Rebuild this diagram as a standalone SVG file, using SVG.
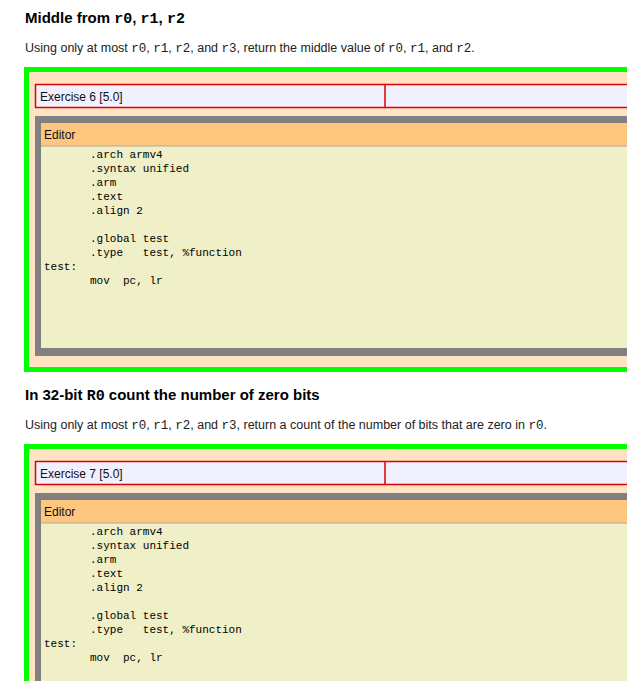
<svg xmlns="http://www.w3.org/2000/svg" width="627" height="681" viewBox="0 0 627 681">
<style>
.h{font:bold 15px "Liberation Sans",Arial,sans-serif;fill:#000}
.p{font:12.5px "Liberation Sans",Arial,sans-serif;fill:#222}
.m{font-family:"Liberation Mono",monospace}
.c{font:11px "Liberation Mono",monospace;fill:#000;white-space:pre}
.l{font:12px "Liberation Sans",Arial,sans-serif;fill:#111}
</style>
<defs>
<g id="ex">
<rect x="26.5" y="69.5" width="700" height="300" fill="#ffe4c4" stroke="#00ff00" stroke-width="5"/>
<rect x="35.5" y="84.5" width="700" height="23" fill="#f0f0ff" stroke="#e00000" stroke-width="1.5"/>
<line x1="385" y1="84" x2="385" y2="108" stroke="#e00000" stroke-width="1.5"/>
<rect x="35" y="116" width="700" height="240" fill="#808080"/>
<rect x="41" y="123" width="700" height="23" fill="#ffc680"/>
<rect x="41" y="146" width="700" height="202" fill="#efefc8"/>
<line x1="41" y1="146" x2="627" y2="146" stroke="#b0a890"/>
<text class="l" x="44" y="139">Editor</text>
<text class="c"><tspan x="90" y="158">.arch armv4</tspan><tspan x="90" y="172">.syntax unified</tspan><tspan x="90" y="186">.arm</tspan><tspan x="90" y="200">.text</tspan><tspan x="90" y="214">.align 2</tspan><tspan x="90" y="242">.global test</tspan><tspan x="90" y="256">.type   test, %function</tspan><tspan x="44" y="270">test:</tspan><tspan x="90" y="284">mov  pc, lr</tspan></text>
</g>
</defs>
<rect width="627" height="681" fill="#fff"/>
<g id="ex6">
<text class="h" x="25" y="23">Middle from <tspan class="m">r0</tspan>, <tspan class="m">r1</tspan>, <tspan class="m">r2</tspan></text>
<text class="p" x="25" y="52">Using only at most <tspan class="m">r0</tspan>, <tspan class="m">r1</tspan>, <tspan class="m">r2</tspan>, and <tspan class="m">r3</tspan>, return the middle value of <tspan class="m">r0</tspan>, <tspan class="m">r1</tspan>, and <tspan class="m">r2</tspan>.</text>
<use href="#ex"/>
<text class="l" x="40" y="101">Exercise 6 [5.0]</text>
</g>
<g id="ex7" transform="translate(0,377)">
<text class="h" x="25" y="23">In 32-bit <tspan class="m">R0</tspan> count the number of zero bits</text>
<text class="p" x="25" y="52">Using only at most <tspan class="m">r0</tspan>, <tspan class="m">r1</tspan>, <tspan class="m">r2</tspan>, and <tspan class="m">r3</tspan>, return a count of the number of bits that are zero in <tspan class="m">r0</tspan>.</text>
<use href="#ex"/>
<text class="l" x="40" y="101">Exercise 7 [5.0]</text>
</g>
<g id="connectors"/>
</svg>
